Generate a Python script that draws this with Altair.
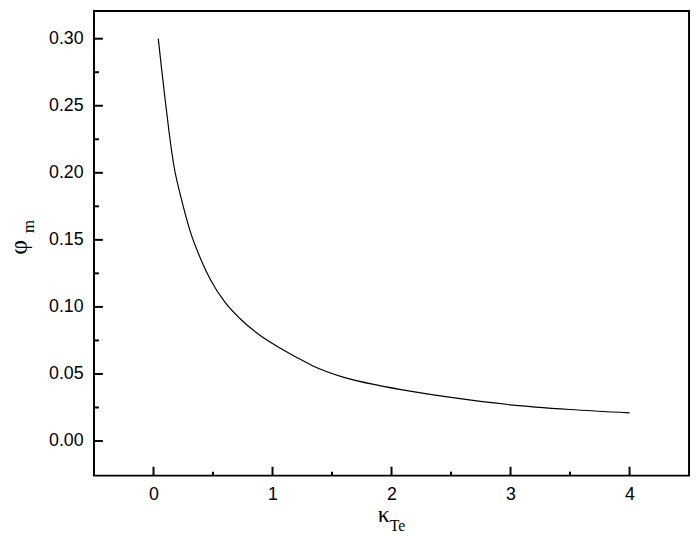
import altair as alt
import pandas as pd

# Curve data
kappa = [0.04, 0.07, 0.10, 0.13, 0.17, 0.23, 0.31, 0.40, 0.48, 0.60, 0.73, 0.90,
         1.07, 1.20, 1.34, 1.60, 1.89, 2.17, 2.50, 3.00, 3.50, 4.00]
phi = [0.300, 0.276, 0.253, 0.231, 0.206, 0.182, 0.156, 0.135, 0.120, 0.1035, 0.091, 0.0785,
       0.069, 0.0625, 0.056, 0.0475, 0.0415, 0.037, 0.0325, 0.027, 0.0235, 0.021]

x_major = [0, 1, 2, 3, 4]
x_minor = [0.5, 1.5, 2.5, 3.5]
y_major = [0.00, 0.05, 0.10, 0.15, 0.20, 0.25, 0.30]
y_minor = [0.025, 0.075, 0.125, 0.175, 0.225, 0.275]

x_dom = [-0.5, 4.5]
y_dom = [-0.0258, 0.3206]

xs = alt.Scale(domain=x_dom, nice=False, zero=False)
ys = alt.Scale(domain=y_dom, nice=False, zero=False)

curve_df = pd.DataFrame({"k": kappa, "p": phi})

curve = alt.Chart(curve_df).mark_line(
    color="black", strokeWidth=1.2, interpolate="monotone", clip=True
).encode(
    x=alt.X("k:Q", scale=xs, axis=alt.Axis(
        values=x_major, title=None, grid=False, domain=False, ticks=False, tickSize=0,
        labelFont="Liberation Sans", labelFontSize=18, labelColor="black",
        labelPadding=10, format="d")),
    y=alt.Y("p:Q", scale=ys, axis=alt.Axis(
        values=y_major, title=None, grid=False, domain=False, ticks=False, tickSize=0,
        labelFont="Liberation Sans", labelFontSize=18, labelColor="black",
        labelPadding=11, format=".2f")),
)

ymaj = alt.Chart(pd.DataFrame({"v": y_major})).mark_rule(color="black", strokeWidth=2).encode(
    y=alt.Y("v:Q", scale=ys), x=alt.value(0), x2=alt.value(9))
ymin = alt.Chart(pd.DataFrame({"v": y_minor})).mark_rule(color="black", strokeWidth=2).encode(
    y=alt.Y("v:Q", scale=ys), x=alt.value(0), x2=alt.value(5))
xmaj = alt.Chart(pd.DataFrame({"v": x_major})).mark_rule(color="black", strokeWidth=2).encode(
    x=alt.X("v:Q", scale=xs), y=alt.value(470), y2=alt.value(461))
xmin = alt.Chart(pd.DataFrame({"v": x_minor})).mark_rule(color="black", strokeWidth=2).encode(
    x=alt.X("v:Q", scale=xs), y=alt.value(470), y2=alt.value(466))

# Axis titles with subscripts
y_main = alt.Chart(pd.DataFrame({"t": ["φ"]})).mark_text(
    font="Liberation Serif", fontSize=26, angle=270, align="center", baseline="middle", color="black"
).encode(text="t:N", x=alt.value(-76), y=alt.value(239))
y_sub = alt.Chart(pd.DataFrame({"t": ["m"]})).mark_text(
    font="Liberation Serif", fontSize=17, angle=270, align="center", baseline="middle", color="black"
).encode(text="t:N", x=alt.value(-66), y=alt.value(218))
x_main = alt.Chart(pd.DataFrame({"t": ["κ"]})).mark_text(
    font="Liberation Serif", fontSize=24, align="center", baseline="middle", color="black"
).encode(text="t:N", x=alt.value(293), y=alt.value(510))
x_sub = alt.Chart(pd.DataFrame({"t": ["Te"]})).mark_text(
    font="Liberation Serif", fontSize=16, align="center", baseline="middle", color="black"
).encode(text="t:N", x=alt.value(307), y=alt.value(521))

chart = alt.layer(curve, ymaj, ymin, xmaj, xmin, y_main, y_sub, x_main, x_sub).properties(
    width=602, height=470,
    background="white",
    autosize=alt.AutoSizeParams(type="none"),
    padding={"left": 87, "top": 0, "right": 3, "bottom": 59},
).configure_view(stroke="black", strokeWidth=2)

chart.save("out.html", embed_options={"renderer": "svg", "actions": False})
